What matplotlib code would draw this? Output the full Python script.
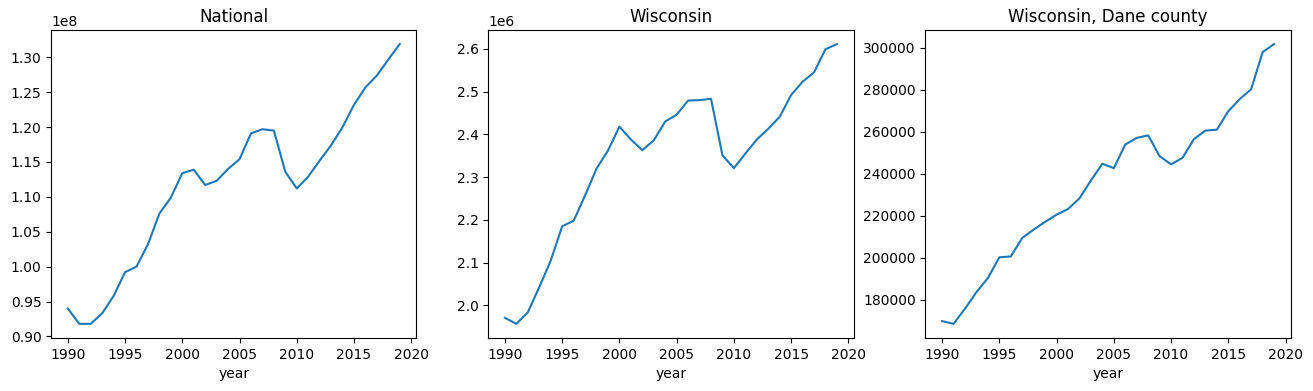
import matplotlib
matplotlib.use('Agg')
import matplotlib.pyplot as plt

years = list(range(1990, 2020))

national = [0.940, 0.918, 0.918, 0.933, 0.958, 0.992, 1.000, 1.032, 1.076, 1.099,
            1.134, 1.139, 1.117, 1.123, 1.140, 1.154, 1.191, 1.197, 1.195, 1.136,
            1.112, 1.129, 1.152, 1.174, 1.200, 1.232, 1.257, 1.274, 1.297, 1.319]
national = [v * 1e8 for v in national]

wisconsin = [1.971, 1.957, 1.984, 2.043, 2.105, 2.185, 2.198, 2.257, 2.320, 2.362,
             2.418, 2.388, 2.363, 2.386, 2.430, 2.446, 2.479, 2.480, 2.483, 2.351,
             2.321, 2.355, 2.388, 2.413, 2.441, 2.492, 2.523, 2.545, 2.599, 2.611]
wisconsin = [v * 1e6 for v in wisconsin]

dane = [169800, 168500, 175700, 183600, 190300, 200200, 200600, 209400, 213400, 217100,
        220500, 223200, 228300, 236800, 244800, 242700, 253900, 257100, 258300, 248400,
        244500, 247600, 256500, 260600, 261000, 269800, 275600, 280300, 298000, 301800]

panels = [('National', national), ('Wisconsin', wisconsin), ('Wisconsin, Dane county', dane)]

fig, axes = plt.subplots(1, 3, figsize=(13.13, 3.91), dpi=100)
fig.subplots_adjust(left=0.039, right=0.983, top=0.923, bottom=0.136, wspace=0.197)

for ax, (title, values) in zip(axes, panels):
    ax.plot(years, values)
    ax.set_title(title)
    ax.set_xlabel('year')

fig.savefig('out.png', dpi=100)
